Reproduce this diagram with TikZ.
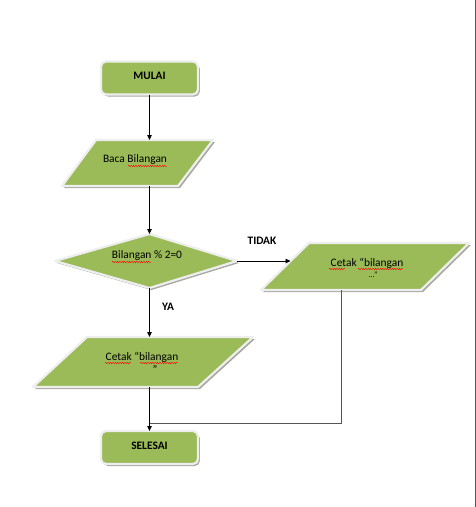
\documentclass[tikz,border=0pt]{standalone}
\usepackage{fontspec}
\setmainfont{Carlito}
\usetikzlibrary{arrows.meta,shadows,decorations.pathmorphing}
\definecolor{flowgreen}{HTML}{9BBB59}
\definecolor{edgec}{HTML}{EEEEEE}
\definecolor{shadowc}{HTML}{A8A8A0}
\definecolor{backline}{HTML}{555555}
\begin{document}
\begin{tikzpicture}[x=1pt,y=-1pt,
  shapefill/.style={fill=flowgreen, draw=edgec, line width=2.2pt, line join=round},
  roundbox/.style={shapefill, rounded corners=5pt, inner sep=0pt, outer sep=0pt,
    minimum width=97pt, minimum height=33pt,
    drop shadow={shadow xshift=1.8pt, shadow yshift=-2pt, fill=shadowc, opacity=1}},
  frame/.style={inner sep=0pt, outer sep=0pt},
  conn/.style={line width=0.8pt, -{Triangle[length=5pt,width=4.5pt]}},
  lbl/.style={font=\fontsize{11.4}{13}\selectfont, inner sep=0pt},
  blbl/.style={font=\fontsize{11.4}{13}\selectfont\bfseries, inner sep=0pt},
  sq/.style={red, line width=0.35pt, decorate, decoration={snake, segment length=2.4pt, amplitude=0.8pt}}
]
\useasboundingbox (0,0) rectangle (476,507);
\draw[backline, line width=1pt] (475.5,0) -- (475.5,507);

% MULAI
\node[roundbox] (mulai) at (149.5,78) {\raisebox{4pt}{\bfseries\fontsize{11.4}{13}\selectfont MULAI}};

% Baca Bilangan
\begin{scope}[shift={(2,2)}]
\fill[shadowc] (96,140) -- (213,140) -- (178,186) -- (62,186) -- cycle;
\end{scope}
\draw[shapefill] (96,140) -- (213,140) -- (178,186) -- (62,186) -- cycle;
\node[frame, minimum width=151pt, minimum height=46pt] (baca) at (137.5,163) {};
\node[lbl] (bacatxt) at (135,160) {Baca Bilangan};
\draw[sq] (128,166) -- (167,166);

% Decision
\begin{scope}[shift={(2,2)}]
\fill[shadowc] (149.5,234) -- (237,261) -- (149.5,288) -- (55,261) -- cycle;
\end{scope}
\draw[shapefill] (149.5,234) -- (237,261) -- (149.5,288) -- (55,261) -- cycle;
\node[frame, minimum width=182pt, minimum height=54pt] (dia) at (146,261) {};
\node[lbl] (diatxt) at (147,256) {Bilangan \% 2=0};
\draw[sq] (112,262) -- (151,262);

% Right output
\begin{scope}[shift={(2,2)}]
\fill[shadowc] (309,243) -- (469,243) -- (421,290) -- (261,290) -- cycle;
\end{scope}
\draw[shapefill] (309,243) -- (469,243) -- (421,290) -- (261,290) -- cycle;
\node[frame, minimum width=208pt, minimum height=47pt] (rpara) at (365,266.5) {};
\node[lbl] (rtxt1) at (367,263) {Cetak “bilangan};
\node[lbl] (rtxt2) at (373,275) {\fontsize{8}{9}\selectfont ..."};
\draw[sq] (329,269) -- (345,269);
\draw[sq] (358,269) -- (403,269);

% Left output
\begin{scope}[shift={(2,2)}]
\fill[shadowc] (87,337) -- (253,337) -- (198,387) -- (33,387) -- cycle;
\end{scope}
\draw[shapefill] (87,337) -- (253,337) -- (198,387) -- (33,387) -- cycle;
\node[frame, minimum width=220pt, minimum height=50pt] (lpara) at (143,362) {};
\node[lbl] (ltxt1) at (142,357) {Cetak “bilangan};
\node[lbl] (ltxt2) at (155,369) {”};
\draw[sq] (105,363) -- (131,363);
\draw[sq] (140,363) -- (178,363);

% SELESAI
\node[roundbox] (selesai) at (149.5,447.5) {\raisebox{4pt}{\bfseries\fontsize{11.4}{13}\selectfont SELESAI}};

% connectors
\coordinate (rin) at (290.5,261);
\coordinate (rout) at (341,290);
\coordinate (join) at (149.5,423);
\draw[conn] (mulai.south) -- (mulai.south |- baca.north);
\draw[conn] (baca.south -| mulai) -- (dia.north -| mulai);
\draw[conn] (dia.east) -- (rin);
\draw[conn] (dia.south -| mulai) -- (lpara.north -| mulai);
\draw[conn] (lpara.south -| mulai) -- (selesai.north);
\draw[backline, line width=1pt] (rout) |- (join);

\node[blbl] (tidak) at (262,241) {TIDAK};
\node[blbl] (ya) at (168,307) {YA};
\end{tikzpicture}
\end{document}
